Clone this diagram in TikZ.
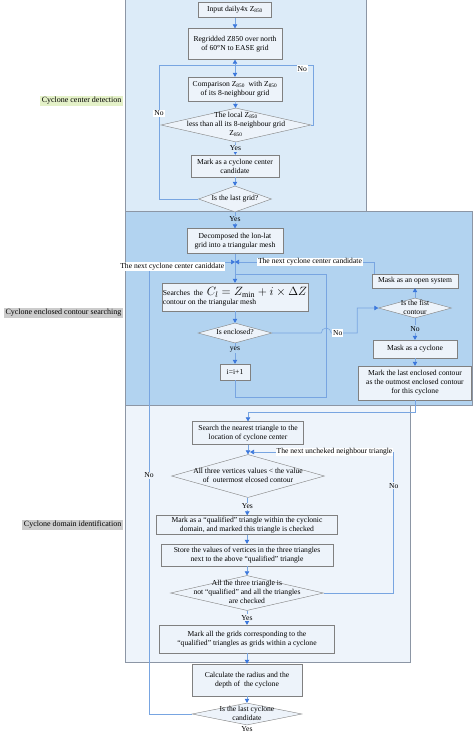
\documentclass[tikz,border=0pt]{standalone}
\usepackage{fontspec}
\setmainfont{Liberation Serif}
\usepackage{amsmath}
\usetikzlibrary{shapes.geometric,arrows.meta,positioning,calc}
\definecolor{stageone}{RGB}{220,235,248}
\definecolor{stagetwo}{RGB}{178,211,240}
\definecolor{stagethree}{RGB}{238,244,251}
\definecolor{boxfill}{RGB}{237,243,250}
\definecolor{boxgray}{RGB}{128,128,128}
\definecolor{stagegray}{RGB}{140,150,165}
\definecolor{flowblue}{RGB}{120,165,225}
\definecolor{tipblue}{RGB}{60,120,220}
\definecolor{labgreen}{RGB}{228,241,200}
\definecolor{labgray}{RGB}{204,204,204}
\newcommand{\Zlvl}{Z\textsubscript{850}}
\newcommand{\dtxt}[1]{\makebox[0pt]{\raisebox{-.25em}[0pt][0pt]{\begin{tabular}{@{}c@{}}#1\end{tabular}}}}

\begin{document}
\begin{tikzpicture}[x=1pt, y=-1pt,
    font=\fontsize{7.6}{9}\selectfont,
    box/.style={rectangle, draw=boxgray, fill=boxfill, align=center, inner sep=1pt},
    dec/.style={diamond, draw=boxgray, fill=boxfill, inner sep=0pt},
    stage/.style={draw=stagegray, line width=0.6pt},
    phase/.style={anchor=east, inner sep=1.5pt, font=\fontsize{8}{9.5}\selectfont},
    lbl/.style={inner sep=1pt, text=black},
    link/.style={flowblue, line width=0.6pt},
    arr/.style={link, -{Triangle[length=4pt, width=4.5pt, color=tipblue]}}
]
    \useasboundingbox (0,0) rectangle (474,737);

    % Stages
    \draw[stage, fill=stageone] (125,-2) rectangle (366,211);
    \draw[stage, fill=stagetwo] (125,211) rectangle (472,405);
    \draw[stage, fill=stagethree] (125,405) rectangle (410,662);
    \node[phase, fill=labgreen] (ph1) at (123,101) {Cyclone center detection};
    \node[phase, fill=labgray] (ph2) at (123,313) {Cyclone enclosed contour searching};
    \node[phase, fill=labgray] (ph3) at (123,525) {Cyclone domain identification};

    % Stage 1: center detection
    \node[box, minimum width=73pt, minimum height=15pt] (inp) at (235,10) {Input daily4x \Zlvl};
    \node[box, minimum width=94pt, minimum height=31pt] (regrid) at (235,44) {Regridded Z850 over north\\of 60°N to EASE grid};
    \node[box, minimum width=94pt, minimum height=24pt] (comp) at (235,89) {Comparison \Zlvl\ \ with \Zlvl\\of its 8-neighbour grid};
    \node[dec, minimum width=150pt, minimum height=34pt] (local) at (236,125) {\dtxt{The local \Zlvl\\less than all its 8-neighbour grid\\\Zlvl}};
    \node[box, minimum width=88pt, minimum height=22pt] (cand) at (235,166) {Mark as a cyclone center\\candidate};
    \node[dec, minimum width=73pt, minimum height=26pt] (lastgrid) at (235,199) {\dtxt{Is the last grid?}};
    \coordinate (j1) at (235,65);

    \draw[arr] (inp) -- (regrid);
    \draw[arr] (j1) -- (regrid.south);
    \draw[arr] (j1) -- (comp);
    \draw[arr] (comp) -- (local);
    \draw[link] (local.east) -- ++(2,0) |- (j1) node[lbl, fill=white, below, pos=0.57] {No};
    \draw[link] (lastgrid.west) -| ($(j1)+(-76,0)$) node[lbl, fill=white, pos=0.82] {No} -- (j1);
    \draw[arr] (local) -- node[lbl, fill=stageone] {Yes} (cand);
    \draw[arr] (cand) -- (lastgrid);

    % Stage 2: enclosed contour searching
    \node[box, minimum width=96pt, minimum height=25pt] (decomp) at (235,241) {Decomposed the lon-lat\\grid into a triangular mesh};
    \node[box, minimum width=137pt, minimum height=28pt, align=left] (search) at (235,297) {Searches\ \ the\ \ {\fontsize{12}{12}\selectfont$C_l = Z_{\min} + i\times\Delta Z$}\\contour on the triangular mesh};
    \node[dec, minimum width=74pt, minimum height=20pt] (encl) at (235,333) {\dtxt{Is enclosed?}};
    \node[box, minimum width=30pt, minimum height=16pt] (inc) at (235,372) {i=i+1};
    \node[box, minimum width=86pt, minimum height=14pt] (opensys) at (415,281) {Mask as an open system};
    \node[dec, minimum width=73pt, minimum height=20pt] (first) at (415,308) {\dtxt{Is the fist\\contour}};
    \node[box, minimum width=84pt, minimum height=18pt] (cyc) at (415,349) {Mask as a cyclone};
    \node[box, minimum width=113pt, minimum height=34pt] (mlast) at (415,383) {Mark the last enclosed contour\\as the outmost enclosed contour\\for this cyclone};
    \coordinate (j2) at (235,262);
    \coordinate (j3) at (235,274);

    \draw[arr] (lastgrid) -- node[lbl, fill=stagetwo, pos=0.45] {Yes} (decomp);
    \draw[arr] (decomp) -- (search);
    \draw[arr] ($(opensys.north west)+(2,0)$) |- (j2) node[lbl, fill=white, pos=0.73] {The next cyclone center candidate};
    \draw[arr] (search) -- (encl);
    \draw[arr] (encl) -- node[lbl, fill=stagetwo, pos=0.3] {yes} (inc);
    \draw[link] (inc.south) -- ++(0,17) -| ($(j3)+(91,0)$) -- (j3);
    \draw[arr] (encl.east) -- ++(49,0) arc[start angle=180, end angle=0, radius=5pt]
        -- node[lbl, fill=white, pos=0.25] {No} ++(26,0) |- (first.west);
    \draw[arr] (first) -- (opensys);
    \draw[arr] (first) -- node[lbl, fill=stagetwo] {No} (cyc);
    \draw[arr] (cyc) -- (mlast);

    % Stage 3: domain identification
    \node[box, minimum width=111pt, minimum height=23pt] (nearest) at (248,433) {Search the nearest triangle to the\\location of cyclone center};
    \node[dec, minimum width=153pt, minimum height=43pt] (allthree) at (248,476) {\dtxt{All three vertices values < the value\\of\ \ outermost elcosed contour}};
    \node[box, minimum width=181pt, minimum height=19pt] (qual) at (247,525) {Mark as a “qualified” triangle within the cyclonic\\domain, and marked this triangle is checked};
    \node[box, minimum width=172pt, minimum height=22pt] (store) at (247,555) {Store the values of vertices in the three triangles\\next to the above “qualified” triangle};
    \node[dec, minimum width=153pt, minimum height=35pt] (allq) at (247,593) {\dtxt{All the three triangle is\\not “qualified” and all the triangles\\are checked}};
    \node[box, minimum width=175pt, minimum height=28pt] (grids) at (247,639) {Mark all the grids corresponding to the\\“qualified” triangles as grids within a cyclone};
    \node[box, minimum width=110pt, minimum height=32pt] (calc) at (247,680) {Calculate the radius and the\\depth of\ \ the cyclone};
    \node[dec, minimum width=110pt, minimum height=22pt] (lastc) at (247,714) {\dtxt{Is the last cyclone\\candidate}};
    \node[lbl, below=0pt of lastc] (yes6) {Yes};
    \coordinate (j4) at (250,452);

    \draw[arr] (mlast.south) -- ++(0,12) -| (nearest.north);
    \draw[arr] (nearest) -- (allthree);
    \draw[arr] (allthree) -- node[lbl, fill=stagethree] {Yes} (qual);
    \draw[arr] (qual) -- (store);
    \draw[arr] (store) -- (allq);
    \draw[arr] (allq.east) -- ++(70,0) |- (j4)
        node[lbl, fill=stagethree, pos=0.38] {No}
        node[lbl, fill=white, pos=0.706] {The next uncheked neighbour triangle};
    \draw[arr] (allq) -- node[lbl, fill=stagethree] {Yes} (grids);
    \draw[arr] (grids) -- (calc);
    \draw[arr] (calc) -- (lastc);
    \draw[arr] (lastc.west) -| ($(j2)+(-86,0)$)
        node[lbl, fill=stagethree, pos=0.764] {No} -- (j2)
        node[lbl, fill=white, below, pos=0.27] {The next cyclone center caniddate};
\end{tikzpicture}
\end{document}
